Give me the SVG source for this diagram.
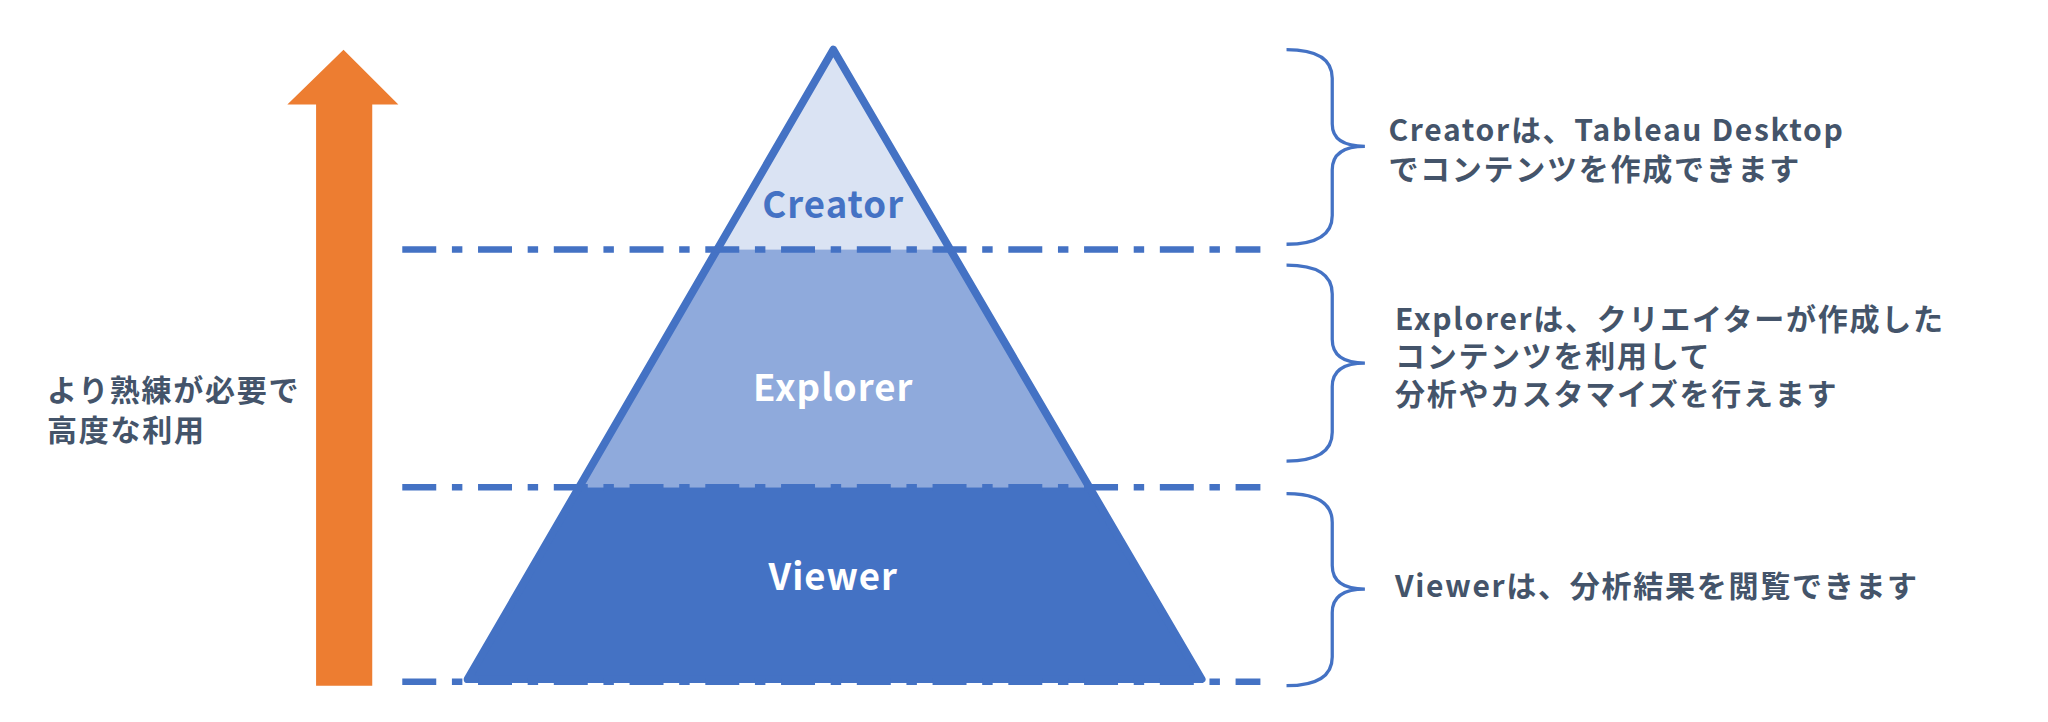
<svg xmlns="http://www.w3.org/2000/svg" width="2048" height="722" viewBox="0 0 2048 722">
<style>
.t{font-family:"Noto Sans CJK JP","Noto Sans",sans-serif;font-weight:bold}
.lbl{font-size:28px;text-anchor:middle;letter-spacing:0.8px}
.desc{font-size:23px;fill:#44546A;letter-spacing:1.3px}
.dash{stroke:#4472C4;stroke-width:5;fill:none;stroke-dasharray:26 12 8 12}
.brace{stroke:#4472C4;stroke-width:2.5;fill:none}
</style>
<rect width="2048" height="722" fill="#fff"/>
<g transform="scale(1.30612)">
<g id="arrow"><polygon points="242,525 285,525 285,80 305,80 263,38 220,80 242,80" fill="#ED7D31"/></g>
<g id="pyramid">
<polygon points="638,38 549.1,191 726.9,191" fill="#DAE3F3"/>
<polygon points="549.1,191 726.9,191 832.6,373 443.4,373" fill="#8FAADC"/>
<polygon points="443.4,373 832.6,373 920,520 358,520" fill="#4472C4"/>
<polygon points="638,38 920,520 358,520" fill="none" stroke="#4472C4" stroke-width="6" stroke-linejoin="round"/>
</g>
<g id="connectors">
<line class="dash" x1="308" y1="191" x2="965" y2="191"/>
<line class="dash" x1="308" y1="373" x2="965" y2="373"/>
<line class="dash" x1="308" y1="522" x2="965" y2="522"/>
<path class="brace" d="M985,38 Q1020,38 1020,60 L1020,95 Q1020,112 1045,112 Q1020,112 1020,130 L1020,165 Q1020,187 985,187"/>
<path class="brace" d="M985,203 Q1020,203 1020,225 L1020,260 Q1020,278 1045,278 Q1020,278 1020,296 L1020,331 Q1020,353 985,353"/>
<path class="brace" d="M985,378 Q1020,378 1020,400 L1020,433 Q1020,451 1045,451 Q1020,451 1020,469 L1020,503 Q1020,525 985,525"/>
</g>
<g id="creator"><text class="t lbl" x="638" y="167" fill="#4472C4">Creator</text></g>
<g id="explorer"><text class="t lbl" x="638" y="307" fill="#fff">Explorer</text></g>
<g id="viewer"><text class="t lbl" x="638" y="452" fill="#fff">Viewer</text></g>
<g id="desc-creator"><text class="t desc" x="1063" y="108">Creatorは、Tableau Desktop</text><text class="t desc" x="1063" y="138">でコンテンツを作成できます</text></g>
<g id="desc-explorer"><text class="t desc" x="1068" y="253">Explorerは、クリエイターが作成した</text><text class="t desc" x="1068" y="281">コンテンツを利用して</text><text class="t desc" x="1068" y="310">分析やカスタマイズを行えます</text></g>
<g id="desc-viewer"><text class="t desc" x="1068" y="457">Viewerは、分析結果を閲覧できます</text></g>
<g id="left-label"><text class="t desc" x="36" y="307">より熟練が必要で</text><text class="t desc" x="36" y="338">高度な利用</text></g>
</g>
</svg>
